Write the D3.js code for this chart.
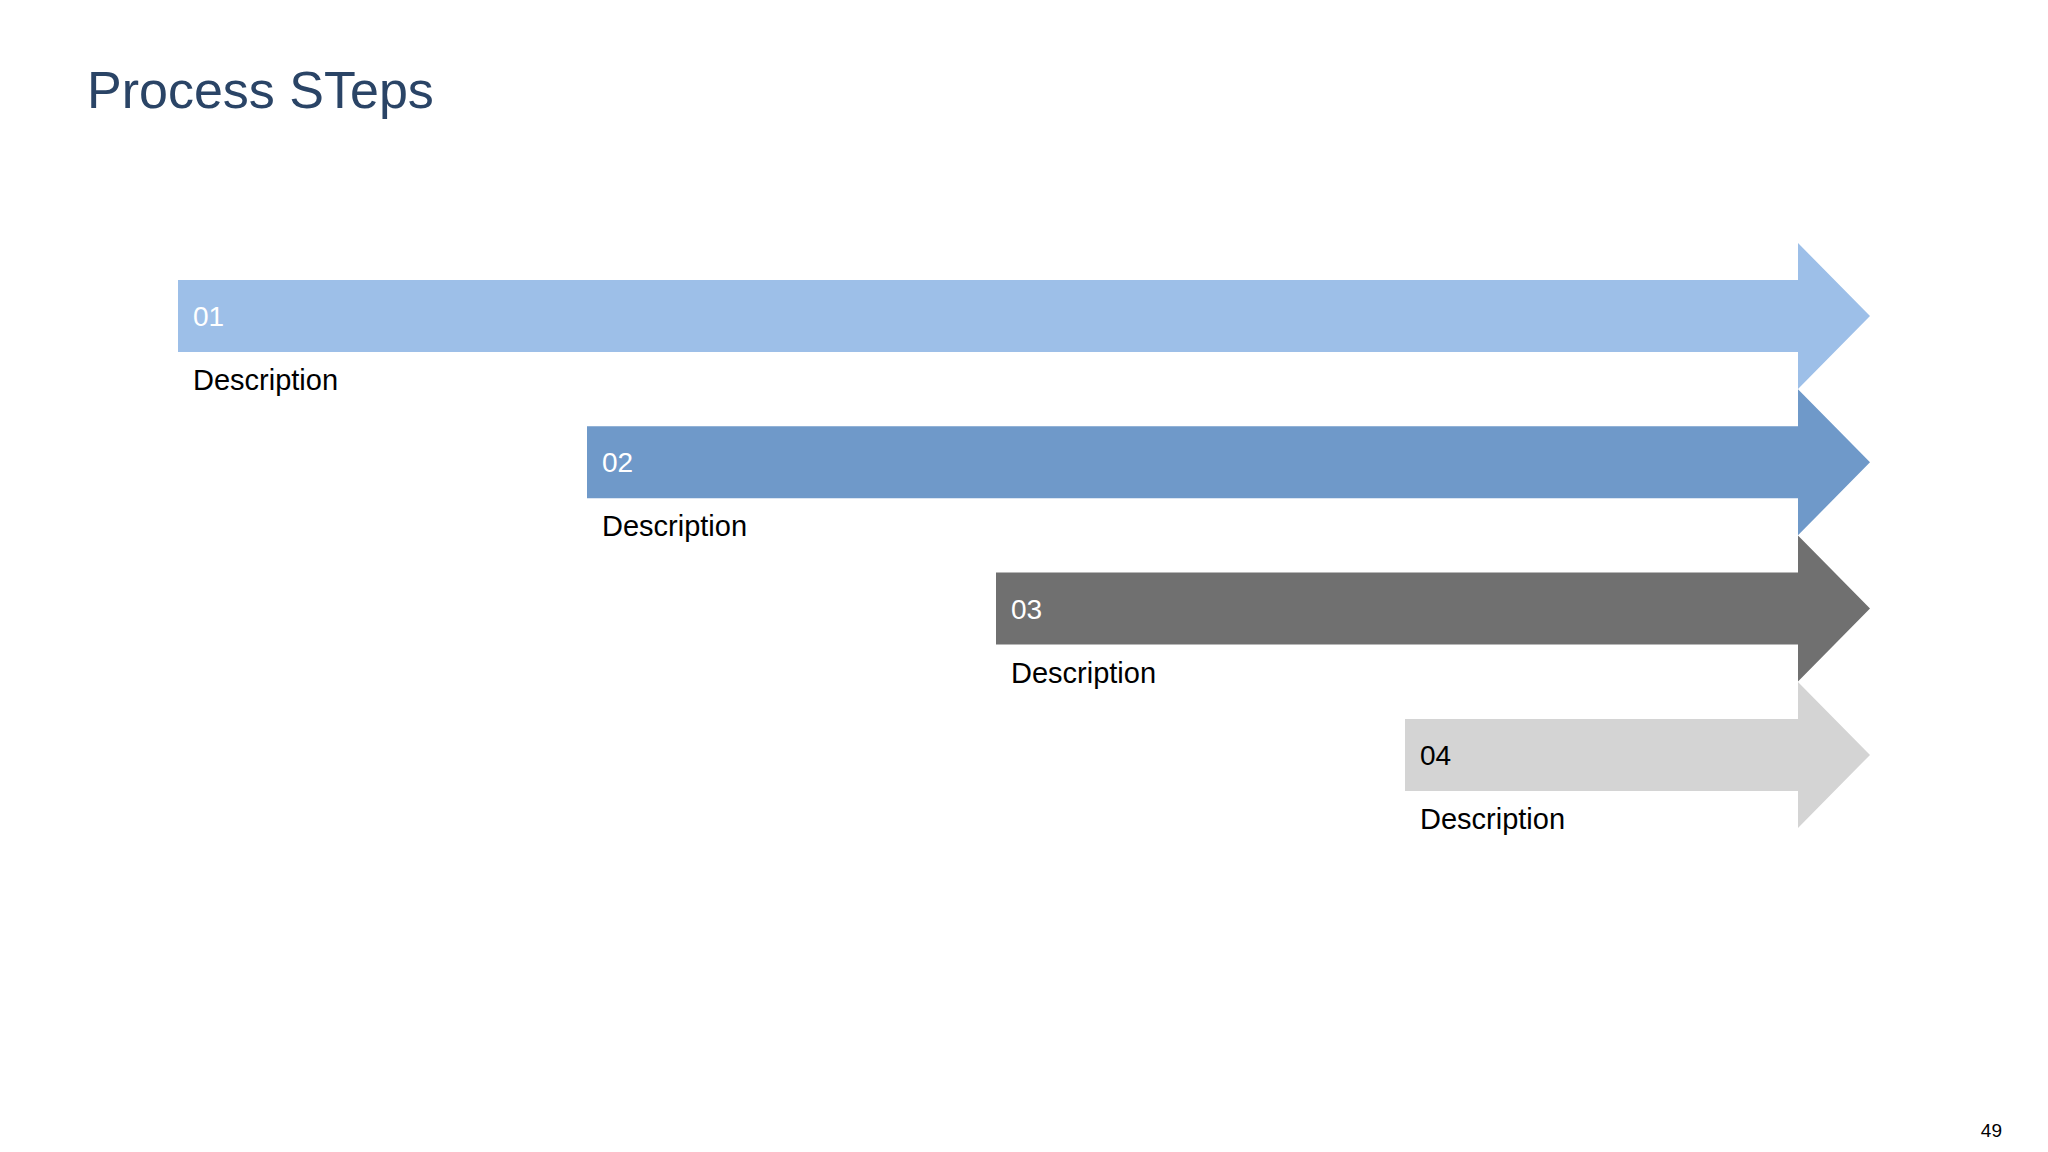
<!DOCTYPE html>
<html><head><meta charset="utf-8">
<script src="https://cdn.jsdelivr.net/npm/d3@7"></script>
<style>body{margin:0;background:#fff}svg{display:block;font-family:"Liberation Sans",Arial,sans-serif}</style>
</head><body>
<script>
// Step data
const steps = ['01', '02', '03', '04'];
const descriptions = ['Description', 'Description', 'Description', 'Description'];
const fills = ['#9dbfe8', '#6f99c9', '#707070', '#d4d4d4'];
const labelColors = ['#ffffff', '#ffffff', '#ffffff', '#000000'];

const W = 2048, H = 1152;
const svg = d3.select('body').append('svg').attr('width', W).attr('height', H);

svg.append('text').attr('x', 87).attr('y', 108).attr('font-size', 52)
    .attr('fill', '#2a4466').text('Process STeps');

const x = d3.scaleLinear().domain([0, steps.length]).range([178, 178 + 409 * steps.length]);
const y = d3.scaleLinear().domain([0, steps.length]).range([280, 280 + 146.3 * steps.length]);
const bodyEnd = 1798, tip = 1870, barH = 72, headOver = 37;

const g = svg.selectAll('.step').data(steps).enter().append('g').attr('class', 'step');

g.append('path')
    .attr('fill', (d, i) => fills[i])
    .attr('d', (d, i) => {
        const x0 = x(i), y0 = y(i), y1 = y0 + barH, ym = y0 + barH / 2;
        return `M${x0},${y0}H${bodyEnd}V${y0 - headOver}L${tip},${ym}L${bodyEnd},${y1 + headOver}V${y1}H${x0}Z`;
    });

g.append('text')
    .attr('x', (d, i) => x(i) + 15)
    .attr('y', (d, i) => y(i) + barH / 2)
    .attr('dy', '0.36em')
    .attr('font-size', 28)
    .attr('fill', (d, i) => labelColors[i])
    .text(d => d);

g.append('text')
    .attr('x', (d, i) => x(i) + 15)
    .attr('y', (d, i) => y(i) + barH + 38)
    .attr('font-size', 29)
    .attr('fill', '#000')
    .text((d, i) => descriptions[i]);

svg.append('text').attr('x', 2002).attr('y', 1137).attr('text-anchor', 'end')
    .attr('font-size', 19).attr('fill', '#000').text('49');
</script>
</body></html>
